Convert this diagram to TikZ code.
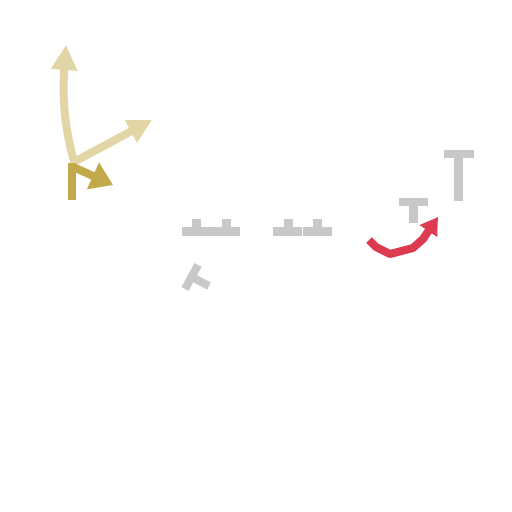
\documentclass[tikz,border=0pt]{standalone}
\usetikzlibrary{arrows.meta}
\definecolor{lighttan}{HTML}{E2D6A7}
\definecolor{darktan}{HTML}{C2A94A}
\definecolor{jointgray}{HTML}{C8C8C8}
\definecolor{redarrow}{HTML}{DC3B50}
\tikzset{
  shaft/.style={line width=8pt},
  jointpart/.style={fill=jointgray, draw=none},
}
\begin{document}
\begin{tikzpicture}[x=1pt,y=-1pt]
\useasboundingbox (0,0) rectangle (512,512);
% light tan frame axes
\draw[shaft, lighttan, -{Triangle[length=25pt,width=25pt]}] (74,162) .. controls (65,128) and (62,100) .. (66,45);
\draw[shaft, lighttan, -{Triangle[length=24pt,width=24pt]}] (74,162) -- (152,120);
% dark tan
\draw[shaft, darktan] (72,200) -- (72,163);
\draw[shaft, darktan, -{Triangle[length=22pt,width=28pt]}] (71,166) -- (113,185);
% joints row
\foreach \bx/\tx in {182/192, 211/222, 273/284, 303/313}{
  \fill[jointpart] (\bx,227) rectangle ++(29,9);
  \fill[jointpart] (\tx,219) rectangle ++(9,8);
}
% rotated T
\draw[jointgray, line width=8pt] (185,289) -- (198,265);
\draw[jointgray, line width=8pt] (192,277) -- (209,286);
% small T
\fill[jointpart] (399,198) rectangle (428,206);
\fill[jointpart] (409,206) rectangle (418,223);
% large T
\fill[jointpart] (444,150) rectangle (474,158);
\fill[jointpart] (454,158) rectangle (463,201);
% red arrow
\draw[shaft, redarrow, line join=round, -{Triangle[length=17pt,width=20pt]}] (369,240) -- (376,247) -- (390,254) -- (413,248) -- (423,239) -- (438,217);
\end{tikzpicture}
\end{document}
